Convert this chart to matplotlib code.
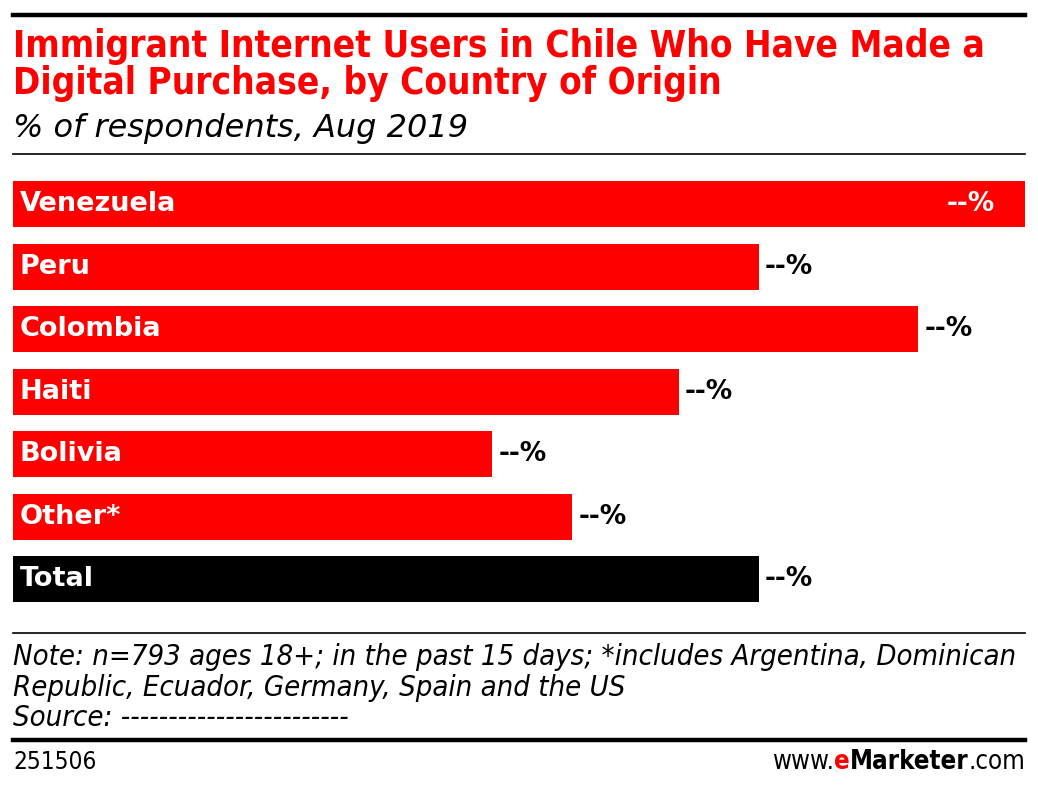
import matplotlib
matplotlib.use("Agg")
import matplotlib.pyplot as plt

# values unknown in source ("--%")
countries = ["Venezuela", "Peru", "Colombia", "Haiti", "Bolivia", "Other*", "Total"]
values = [38, 28, 34, 25, 18, 21, 28]
value_labels = ["--%"] * len(countries)
bar_colors = ["#ff0000"] * 6 + ["#000000"]

title = "Immigrant Internet Users in Chile Who Have Made a\nDigital Purchase, by Country of Origin"
subtitle = "% of respondents, Aug 2019"
note = ("Note: n=793 ages 18+; in the past 15 days; *includes Argentina, Dominican\n"
        "Republic, Ecuador, Germany, Spain and the US\n"
        "Source: ------------------------")
chart_id = "251506"

W, H = 1038, 788
fig = plt.figure(figsize=(W / 100, H / 100), dpi=100)

def fx(px):
    return px / W

def fy(py):
    return 1 - py / H

# rules
fig.add_artist(plt.Line2D([fx(13), fx(1025)], [fy(15), fy(15)], color="black", lw=3.2))
fig.add_artist(plt.Line2D([fx(13), fx(1025)], [fy(154), fy(154)], color="black", lw=1.2))
fig.add_artist(plt.Line2D([fx(13), fx(1025)], [fy(633), fy(633)], color="black", lw=1.2))
fig.add_artist(plt.Line2D([fx(13), fx(1025)], [fy(740), fy(740)], color="black", lw=3.2))

for k, line in enumerate(title.split("\n")):
    fig.text(fx(13), fy(57 + 36.5 * k), line, color="#ff0000", fontsize=26.5,
             fontweight="bold", fontstretch="condensed", va="baseline", ha="left")
fig.text(fx(13), fy(137), subtitle, color="black", fontsize=23, style="italic",
         va="baseline", ha="left")

# bars
top_px, bot_px = 172.75, 610.25
ax = fig.add_axes([fx(13), fy(bot_px), fx(1025) - fx(13), (bot_px - top_px) / H])
y = list(range(len(countries)))
ax.barh(y, values, height=0.736, color=bar_colors, zorder=2)
ax.set_xlim(0, max(values))
ax.set_ylim(len(countries) - 0.5, -0.5)
ax.axis("off")

for i, (c, v, lab) in enumerate(zip(countries, values, value_labels)):
    ax.annotate(c, (0, i), xytext=(7, 0), textcoords="offset pixels", color="white",
                fontsize=19.5, fontweight="bold", va="center", ha="left")
    if v == max(values):
        ax.annotate(lab, (v, i), xytext=(-30, 0), textcoords="offset pixels",
                    color="white", fontsize=19, fontweight="bold", va="center", ha="right")
    else:
        ax.annotate(lab, (v, i), xytext=(6, 0), textcoords="offset pixels",
                    color="black", fontsize=19, fontweight="bold", va="center", ha="left")

for k, line in enumerate(note.split("\n")):
    fig.text(fx(13), fy(665 + 30.5 * k), line, color="black", fontsize=21,
             style="italic", fontstretch="condensed", va="baseline", ha="left")
fig.text(fx(13), fy(762), chart_id, color="black", fontsize=17.5, fontstretch="condensed",
         va="center", ha="left")

# footer logo text
t1 = fig.text(fx(1025), fy(762), ".com", color="black", fontsize=18.5,
              fontstretch="condensed", va="center", ha="right")
fig.canvas.draw()
r = fig.canvas.get_renderer()
bb = t1.get_window_extent(r)
t2 = fig.text(bb.x0 / W, fy(762), "Marketer", color="black", fontsize=18.5,
              fontstretch="condensed", fontweight="bold", va="center", ha="right")
bb = t2.get_window_extent(r)
t3 = fig.text(bb.x0 / W, fy(762), "e", color="#ff0000", fontsize=18.5,
              fontstretch="condensed", fontweight="bold", va="center", ha="right")
bb = t3.get_window_extent(r)
fig.text(bb.x0 / W, fy(762), "www.", color="black", fontsize=18.5,
         fontstretch="condensed", va="center", ha="right")

fig.savefig("out.png", dpi=100)
